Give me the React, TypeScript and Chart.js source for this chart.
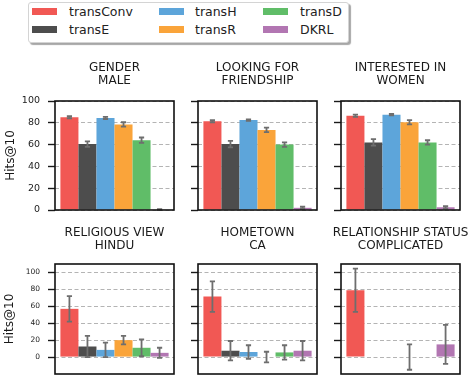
import React, { useEffect, useRef } from 'react';
import { Chart, registerables } from 'chart.js';

Chart.register(...registerables);

// ---------- data ----------
const methods = ['transConv', 'transE', 'transH', 'transR', 'transD', 'DKRL'];
const methodColors = ['#F15854', '#4D4D4D', '#5DA5DA', '#FAA43A', '#60BD68', '#B276B2'];

const panelTitles = [
  ['GENDER', 'MALE'],
  ['LOOKING FOR', 'FRIENDSHIP'],
  ['INTERESTED IN', 'WOMEN'],
  ['RELIGIOUS VIEW', 'HINDU'],
  ['HOMETOWN', 'CA'],
  ['RELATIONSHIP STATUS', 'COMPLICATED'],
];

// Hits@10 per panel (same order as panelTitles)
const transConv = [85, 81.5, 86.5, 57, 71.5, 79];
const transE = [60.5, 60.5, 62, 12.5, 7.5, 0];
const transH = [84.5, 82.5, 87.5, 8.5, 6, 0];
const transR = [78.5, 73.5, 80.5, 20, 0, 0];
const transD = [64, 60, 62, 11, 5.5, 0];
const DKRL = [0.5, 2, 2.5, 5, 7.5, 15];

// error bar half-lengths
const transConvErr = [1, 1, 1, 15, 18, 25.5];
const transEErr = [2.5, 3, 3, 12.5, 11.5, 0];
const transHErr = [1, 0.7, 0.7, 8.5, 8, 0];
const transRErr = [2, 2, 2, 5, 6.3, 15];
const transDErr = [2.5, 2, 2, 10, 8.5, 0];
const DKRLErr = [0.3, 1, 1, 6, 11.5, 23];

const yTickValues = [0, 20, 40, 60, 80, 100];
const yAxisLabel = 'Hits@10';

const seriesValues = [transConv, transE, transH, transR, transD, DKRL];
const seriesErrors = [transConvErr, transEErr, transHErr, transRErr, transDErr, DKRLErr];

// ---------- layout ----------
const FONT = '"DejaVu Sans", "Liberation Sans", sans-serif';
const colLeft = [55, 198, 341];
const areaW = 119;
const rowTop = [101, 264];
const areaH = [109, 110];
const rowRange = [
  [0, 100],
  [-20, 110],
];
const AXIS_W = 55;
const PAD_TOP = 50;
const PAD_BOTTOM = 18;

function Panel({ index }: { index: number }) {
  const ref = useRef<HTMLCanvasElement | null>(null);
  const row = Math.floor(index / 3);
  const col = index % 3;
  const left = colLeft[col] - AXIS_W;
  const top = rowTop[row] - PAD_TOP;
  const width = col === 2 ? 474 - left : areaW + AXIS_W + 15;
  const height = PAD_TOP + areaH[row] + PAD_BOTTOM;

  useEffect(() => {
    const canvas = ref.current;
    if (!canvas) return;
    const values = seriesValues.map((s) => s[index]);
    const errors = seriesErrors.map((s) => s[index]);
    const showLabels = col === 0;
    const tickFont = row === 0 ? 9.5 : 7.5;

    const panelPlugin = {
      id: 'panelDecor' + index,
      afterDatasetsDraw(chart: any) {
        const ctx = chart.ctx;
        const meta = chart.getDatasetMeta(0);
        const ys = chart.scales.y;
        ctx.save();
        ctx.strokeStyle = '#6e6e6e';
        ctx.lineWidth = 1.8;
        for (let i = 0; i < values.length; i++) {
          const e = errors[i];
          if (!e) continue;
          const x = meta.data[i].x;
          const y1 = ys.getPixelForValue(values[i] + e);
          const y2 = ys.getPixelForValue(values[i] - e);
          ctx.beginPath();
          ctx.moveTo(x, y1);
          ctx.lineTo(x, y2);
          ctx.moveTo(x - 2.6, y1);
          ctx.lineTo(x + 2.6, y1);
          ctx.moveTo(x - 2.6, y2);
          ctx.lineTo(x + 2.6, y2);
          ctx.stroke();
        }
        ctx.restore();
      },
      afterDraw(chart: any) {
        const ctx = chart.ctx;
        const a = chart.chartArea;
        ctx.save();
        ctx.strokeStyle = '#111';
        ctx.lineWidth = 1.6;
        ctx.strokeRect(a.left, a.top, a.right - a.left, a.bottom - a.top);
        ctx.fillStyle = '#1a1a1a';
        ctx.font = '12px ' + FONT;
        ctx.textAlign = 'center';
        ctx.textBaseline = 'middle';
        const cx = (a.left + a.right) / 2;
        const t = panelTitles[index];
        const o1 = row === 0 ? 33 : 31.5;
        const o2 = row === 0 ? 20 : 18;
        ctx.fillText(t[0], cx, a.top - o1);
        ctx.fillText(t[1], cx, a.top - o2);
        if (showLabels) {
          ctx.translate(row === 0 ? 11 : 10, (a.top + a.bottom) / 2);
          ctx.rotate(-Math.PI / 2);
          ctx.fillText(yAxisLabel, 0, 0);
        }
        ctx.restore();
      },
    };

    const chart = new Chart(canvas, {
      type: 'bar',
      data: {
        datasets: [
          {
            data: values.map((v, i) => ({ x: i, y: v })),
            backgroundColor: methodColors,
            borderWidth: 0,
            inflateAmount: 0,
            barPercentage: 1,
            categoryPercentage: 1,
          },
        ],
      },
      options: {
        responsive: false,
        animation: false,
        devicePixelRatio: 1,
        layout: {
          padding: { left: 0, top: PAD_TOP, right: width - AXIS_W - areaW, bottom: PAD_BOTTOM },
        },
        plugins: { legend: { display: false }, tooltip: { enabled: false }, title: { display: false } },
        scales: {
          x: {
            type: 'linear',
            display: false,
            offset: false,
            min: -0.8,
            max: 5.8,
            grid: { display: false },
          },
          y: {
            type: 'linear',
            min: rowRange[row][0],
            max: rowRange[row][1],
            afterBuildTicks: (s: any) => {
              s.ticks = yTickValues.map((v) => ({ value: v }));
            },
            afterFit: (s: any) => {
              s.width = AXIS_W;
            },
            border: { display: false, dash: [4, 2.5] },
            grid: {
              color: '#b4b4b4',
              lineWidth: 1,
              drawTicks: true,
              tickLength: 7,
              tickColor: '#1a1a1a',
              tickWidth: 1.4,
              tickBorderDash: [],
            },
            ticks: {
              display: showLabels,
              color: '#222',
              padding: 8,
              font: { family: FONT, size: tickFont },
            },
          },
        },
      },
      plugins: [panelPlugin],
    } as any);
    return () => chart.destroy();
  }, [index]);

  return (
    <canvas
      ref={ref}
      width={width}
      height={height}
      style={{ position: 'absolute', left, top, width, height }}
    />
  );
}

function Legend() {
  const swX = [32, 159, 263];
  const txX = [69, 195, 300];
  const rowY = [11.7, 29.7];
  return (
    <>
      <div
        style={{
          position: 'absolute',
          left: 28,
          top: 2,
          width: 321,
          height: 41,
          boxSizing: 'border-box',
          border: '1px solid #d4d4d4',
          borderRadius: 3,
          background: '#fff',
          boxShadow: '2px 2px 1px rgba(0,0,0,0.35)',
        }}
      />
      {methods.map((m, k) => {
        const c = Math.floor(k / 2);
        const r = k % 2;
        return (
          <React.Fragment key={m}>
            <div
              style={{
                position: 'absolute',
                left: swX[c],
                top: rowY[r] - 3.8,
                width: 25,
                height: 7.5,
                background: methodColors[k],
              }}
            />
            <div
              style={{
                position: 'absolute',
                left: txX[c],
                top: rowY[r] - 9,
                height: 18,
                lineHeight: '18px',
                fontFamily: FONT,
                fontSize: 12.5,
                color: '#222',
                whiteSpace: 'nowrap',
              }}
            >
              {m}
            </div>
          </React.Fragment>
        );
      })}
    </>
  );
}

export default function App() {
  return (
    <div
      style={{
        position: 'absolute',
        left: 0,
        top: 0,
        width: 474,
        height: 379,
        overflow: 'hidden',
        background: '#fff',
      }}
    >
      <Legend />
      {panelTitles.map((_, i) => (
        <Panel key={i} index={i} />
      ))}
    </div>
  );
}
